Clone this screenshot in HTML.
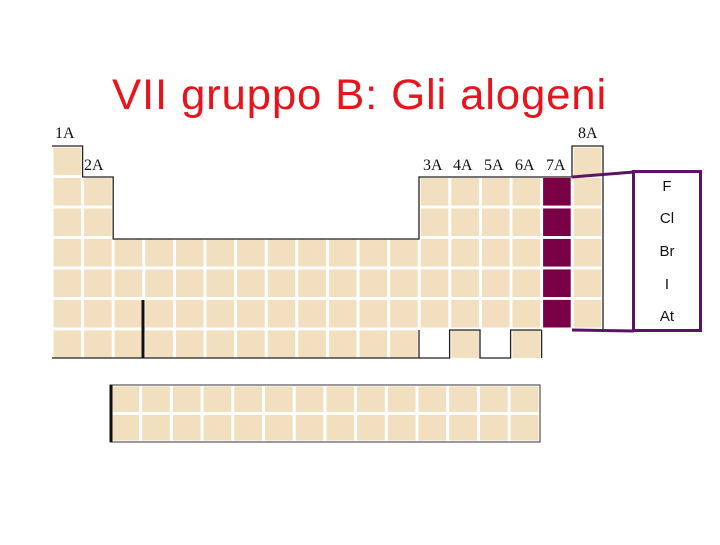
<!DOCTYPE html>
<html><head><meta charset="utf-8"><style>
body{margin:0;width:720px;height:540px;background:#fff;overflow:hidden;font-family:"Liberation Sans",sans-serif}
</style></head><body>
<svg id="s" width="720" height="540" xmlns="http://www.w3.org/2000/svg">
<text x="112" y="109" font-family="Liberation Sans, sans-serif" font-size="43" letter-spacing="0.8" fill="#e8141c" textLength="495" lengthAdjust="spacingAndGlyphs">VII gruppo B: Gli alogeni</text>
<g font-family="Liberation Serif, serif" font-size="16" fill="#111">
<text x="55" y="138">1A</text><text x="84" y="170">2A</text>
<text x="423" y="170">3A</text><text x="453" y="170">4A</text><text x="484" y="170">5A</text><text x="515" y="170">6A</text><text x="546" y="170">7A</text>
<text x="578" y="138">8A</text>
</g>
<g id="cells"></g>
<path d="M52,146 H82.6 V177 H113.2 V239 H419 V177 H572 V146 H603 V330 H572 M541.6,358 V330 M541.6,330 H510.6 V358 H480 V330 H449.6 V358 H419 V330 M419,358 H52 Z" fill="none" stroke="#222" stroke-width="1.3"/>
<line x1="143" y1="300" x2="143" y2="358" stroke="#111" stroke-width="3"/>
<rect x="110" y="385" width="430" height="57" fill="none" stroke="#333" stroke-width="1"/>
<line x1="111" y1="385" x2="111" y2="442" stroke="#111" stroke-width="3"/>
<line x1="572" y1="177" x2="634" y2="172" stroke="#5b1465" stroke-width="3"/>
<line x1="572" y1="330" x2="634" y2="331" stroke="#5b1465" stroke-width="3"/>
<rect x="633.5" y="171.5" width="67" height="159" fill="#fff" stroke="#5b1465" stroke-width="3"/>
<g font-family="Liberation Sans, sans-serif" font-size="15" fill="#111" text-anchor="middle">
<text x="667" y="191">F</text><text x="667" y="223">Cl</text><text x="667" y="256">Br</text><text x="667" y="289">I</text><text x="667" y="321">At</text>
</g>
</svg>
<script>
var g=document.getElementById('cells'),w=30.6,h=30.6,out='';
function cell(x,y,c){out+='<rect x="'+(x+1.5)+'" y="'+(y+1.5)+'" width="'+(w-3)+'" height="'+(h-3)+'" fill="'+c+'"/>';}
var rows=[[1,18],[1,2,13,14,15,16,17,18],[1,2,13,14,15,16,17,18]];
for(var r=0;r<7;r++){var cols=[];
 if(r<3)cols=rows[r];else if(r<6){for(var c=1;c<=18;c++)cols.push(c);}else{for(var c=1;c<=12;c++)cols.push(c);cols.push(14);cols.push(16);}
 cols.forEach(function(c){var col=(c==17&&r>=1&&r<=5)?'#7a0045':'#f2dfbf';cell(52+(c-1)*w,146+r*h*0.996,col);});}
for(var r=0;r<2;r++)for(var c=0;c<14;c++){out+='<rect x="'+(110+c*30.7+1.5)+'" y="'+(385+r*28.5+1.5)+'" width="27.7" height="25.5" fill="#f2dfbf"/>';}
g.innerHTML=out;
</script>
</body></html>
